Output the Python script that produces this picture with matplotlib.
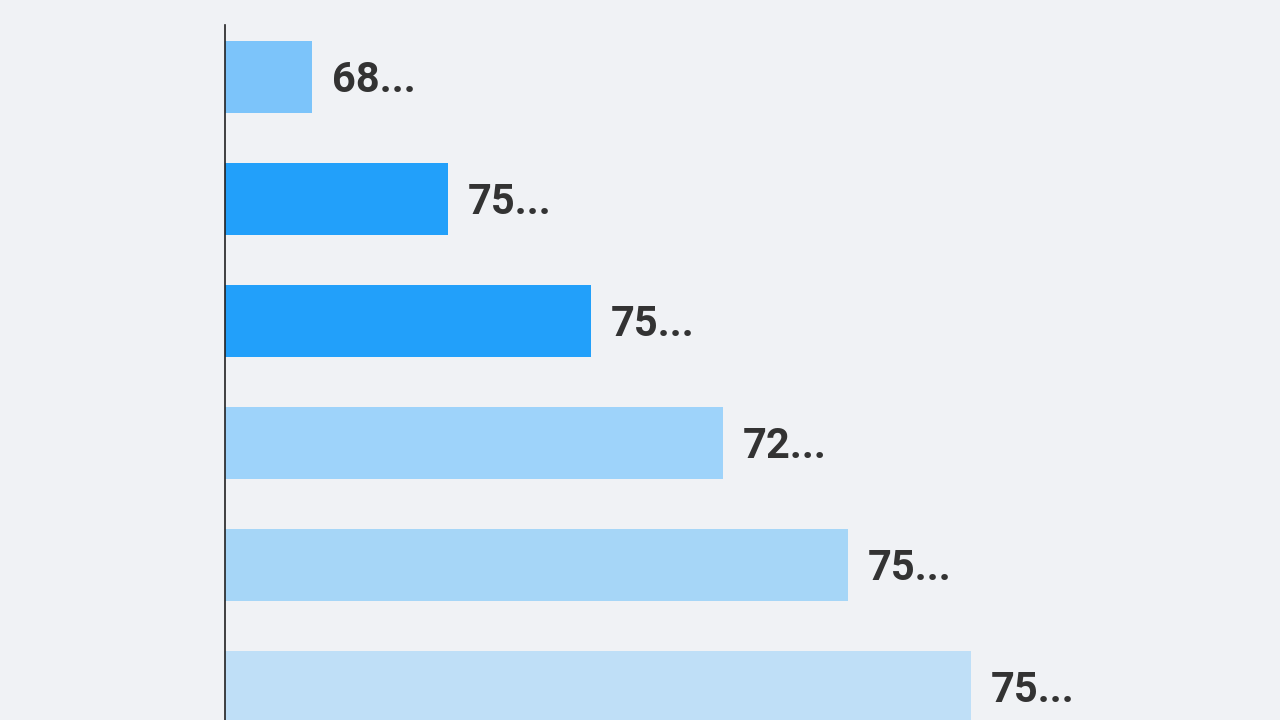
import matplotlib.pyplot as plt

labels = ["68...", "75...", "75...", "72...", "75...", "75..."]
values = [87, 223, 366, 498, 623, 746]
colors = ["#7cc4fa", "#22a0fa", "#22a0fa", "#9ed3fa", "#a6d6f7", "#bfdff7"]

bg = "#f0f2f5"
fig = plt.figure(figsize=(12.8, 7.2), dpi=100, facecolor=bg)
ax = fig.add_axes([225 / 1280, 0, 1 - 225 / 1280, 695 / 720])
ax.set_facecolor(bg)

pos = list(range(len(values)))
ax.barh(pos, values, height=0.59, color=colors, left=0)

for y, v, t in zip(pos, values, labels):
    ax.text(v + 20, y + 0.03, t, va="center", ha="left", fontsize=30,
            fontweight="bold", family=["Roboto", "DejaVu Sans"], color="#333333")

ax.set_xlim(0, 1055)
ax.set_ylim(5.27, -0.426)
for s in ["top", "right", "bottom"]:
    ax.spines[s].set_visible(False)
ax.spines["left"].set_color("#222222")
ax.spines["left"].set_linewidth(1.2)
ax.set_xticks([])
ax.set_yticks([])

fig.savefig("out.png", dpi=100, facecolor=bg)
